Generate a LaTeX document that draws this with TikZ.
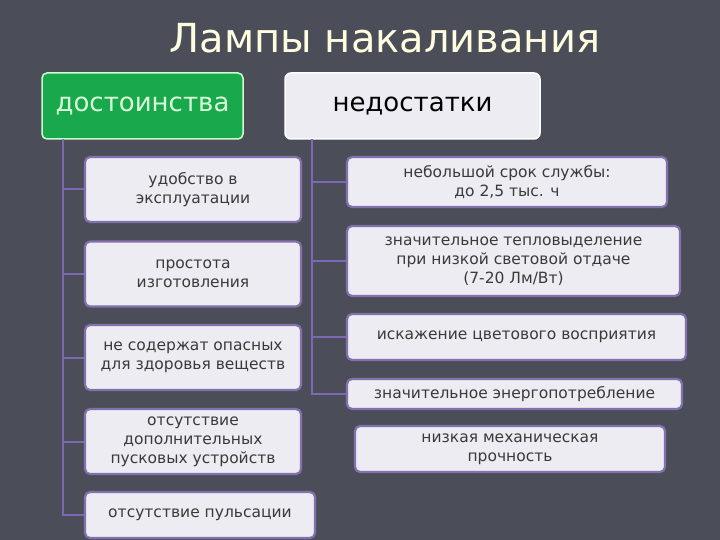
\documentclass[tikz,border=0pt]{standalone}
\usepackage{fontspec}
\setmainfont{DejaVu Sans}
\begin{document}
\begin{tikzpicture}[x=1pt,y=-1pt,
 itembox/.style={draw=purple!30!blue!40!gray!80,line width=2.2pt,fill=boxfill,rounded corners=5pt,text=itemtext,align=center,font=\fontsize{15.5}{19}\selectfont,inner sep=0pt},
 conn/.style={draw=linecol,line width=2pt}]
\definecolor{bg}{HTML}{4B4E58}
\definecolor{boxfill}{HTML}{EDECF3}
\definecolor{itemtext}{HTML}{3A3A3A}
\definecolor{linecol}{HTML}{7C68B4}
\definecolor{green1}{HTML}{19A84B}
\fill[bg] (0,0) rectangle (720,540);
\useasboundingbox (0,0) rectangle (720,540);
\node[text=yellow!12!white,font=\fontsize{40}{46}\selectfont] (title) at (385,38) {Лампы накаливания};
\node[draw=green!20!white,line width=1.5pt,fill=green1,rounded corners=5pt,minimum width=201pt,minimum height=66pt,text=green!15!white,font=\fontsize{26}{30}\selectfont] (adv) at (142.5,106) {достоинства};
\node[draw=white,line width=1.5pt,fill=boxfill,rounded corners=6pt,minimum width=255pt,minimum height=66pt,text=black,font=\fontsize{26}{30}\selectfont] (dis) at (412.5,106) {недостатки};
% left items
\node[itembox,minimum width=216pt,minimum height=65pt] (l1) at (193,189.5) {удобство в\\эксплуатации};
\node[itembox,minimum width=216pt,minimum height=65pt] (l2) at (193,274) {простота\\изготовления};
\node[itembox,minimum width=216pt,minimum height=65pt] (l3) at (193,357.5) {не содержат опасных\\для здоровья веществ};
\node[itembox,minimum width=216pt,minimum height=65pt] (l4) at (193,441.5) {отсутствие\\дополнительных\\пусковых устройств};
\node[itembox,minimum width=230pt,minimum height=46pt] (l5) at (200,515) {отсутствие пульсации};
% right items
\node[itembox,minimum width=320pt,minimum height=50pt] (r1) at (507,182) {небольшой срок службы:\\до 2,5 тыс. ч};
\node[itembox,minimum width=333pt,minimum height=70pt] (r2) at (513.5,261) {значительное тепловыделение\\при низкой световой отдаче\\(7-20 Лм/Вт)};
\node[itembox,minimum width=339pt,minimum height=46pt] (r3) at (516.5,337) {искажение цветового восприятия};
\node[itembox,minimum width=335pt,minimum height=30pt] (r4) at (514.5,394) {значительное энергопотребление};
\node[itembox,minimum width=310pt,minimum height=46pt] (r5) at (510,449) {низкая механическая\\прочность};
% connectors
\coordinate (lt) at (63,139);
\coordinate (rt) at (312,139);
\draw[conn] (lt) |- (l5.west);
\foreach \n in {l1,l2,l3,l4} \draw[conn] (lt|-\n.west) -- (\n.west);
\draw[conn] (rt) |- (r4.west);
\foreach \n in {r1,r2,r3} \draw[conn] (rt|-\n.west) -- (\n.west);
\end{tikzpicture}
\end{document}
